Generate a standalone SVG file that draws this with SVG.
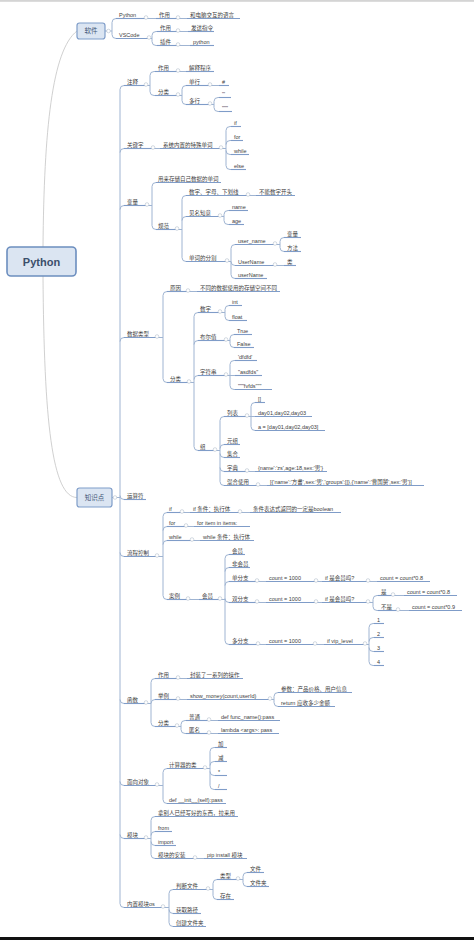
<svg xmlns="http://www.w3.org/2000/svg" width="474" height="940" viewBox="0 0 474 940">
<style>
.t{font-family:"Liberation Sans","Noto Sans CJK SC",sans-serif;font-size:5.5px;fill:#404040}
.u{fill:none;stroke:#7f9cc8;stroke-width:1.1}
.c{fill:none;stroke:#9fb4d2;stroke-width:1}
.k{fill:#fff;stroke:#b4bfcd;stroke-width:0.6}
.box{fill:#dbe5f2;stroke:#7f9dc9;stroke-width:1.2}
.bt{font-family:"Liberation Sans","Noto Sans CJK SC",sans-serif;font-size:6.5px;fill:#3d5475;text-anchor:middle}
.rc{fill:none;stroke:#c4c4c4;stroke-width:0.8}
</style>
<rect x="0" y="0" width="474" height="940" fill="#fff"/>
<rect x="0" y="0" width="474" height="1.8" fill="#d4d4d4"/>
<rect x="0" y="937" width="474" height="3" fill="#111"/>

<g id="connectors">
<path class="rc" d="M43,247C44,130 52,50 77,31"/>
<path class="rc" d="M43,276C44,420 52,497.5 77,497.5"/>
<path class="c" d="M105,31H112M112,22.5V34.5M112,22.5Q112,18.5 116,18.5M112,34.5Q112,38.5 116,38.5"/>
<path class="c" d="M146,18.5H156M178,18.5H187"/>
<path class="c" d="M149,38.5H152M152,35.5V41.5M152,35.5Q152,31.5 156,31.5H157M152,41.5Q152,45.5 156,45.5H157M178,31.5H188M178,45.5H190"/>
<path class="c" d="M112,497.5H120M120,89.5V903.5M120,89.5Q120,85.5 124,85.5M120,152.5Q120,148.5 124,148.5M120,209.5Q120,205.5 124,205.5M120,341.5Q120,337.5 124,337.5M120,495.5Q120,499.5 124,499.5M120,552.5Q120,556.5 124,556.5M120,699.5Q120,703.5 124,703.5M120,781.5Q120,785.5 124,785.5M120,834.5Q120,838.5 124,838.5M120,903.5Q120,907.5 124,907.5"/>
<path class="c" d="M146,85.5H150M150,75.5V91.5M150,75.5Q150,71.5 154,71.5H155M150,91.5Q150,95.5 154,95.5H155M178,71.5H186"/>
<path class="c" d="M178,95.5H182M182,89.5V100.5M182,89.5Q182,85.5 186,85.5M182,100.5Q182,104.5 186,104.5M210,85.5H219"/>
<path class="c" d="M210,104.5H214M214,101.5V107.5M214,101.5Q214,97.5 218,97.5H219M214,107.5Q214,111.5 218,111.5H219"/>
<path class="c" d="M153,148.5H160M221,148.5H226M226,130.5V165.5M226,130.5Q226,126.5 230,126.5H231M226,144.5Q226,140.5 230,140.5H231M226,150.5Q226,154.5 230,154.5H231M226,165.5Q226,169.5 230,169.5H231"/>
<path class="c" d="M147,205.5H152M152,186.5V225.5M152,186.5Q152,182.5 156,182.5M152,225.5Q152,229.5 156,229.5"/>
<path class="c" d="M177,229.5H182M182,199.5V257.5M182,199.5Q182,195.5 186,195.5M182,220.5Q182,216.5 186,216.5M182,257.5Q182,261.5 186,261.5M248,195.5H256"/>
<path class="c" d="M220,216.5H224M224,214.5V220.5M224,214.5Q224,210.5 228,210.5H229M224,220.5Q224,224.5 228,224.5H229"/>
<path class="c" d="M227,261.5H231M231,248.5V274.5M231,248.5Q231,244.5 235,244.5M231,261.5Q231,265.5 235,265.5M231,274.5Q231,278.5 235,278.5"/>
<path class="c" d="M275,244.5H280M280,241.5V247.5M280,241.5Q280,237.5 284,237.5M280,247.5Q280,251.5 284,251.5M275,265.5H284"/>
<path class="c" d="M157,337.5H163M163,295.5V378.5M163,295.5Q163,291.5 167,291.5M163,378.5Q163,382.5 167,382.5M188,291.5H197"/>
<path class="c" d="M189,382.5H194M194,316.5V446.5M194,316.5Q194,312.5 198,312.5M194,344.5Q194,340.5 198,340.5M194,379.5Q194,375.5 198,375.5M194,446.5Q194,450.5 198,450.5"/>
<path class="c" d="M220,312.5H225M225,309.5V316.5M225,309.5Q225,305.5 229,305.5M225,316.5Q225,320.5 229,320.5"/>
<path class="c" d="M226,340.5H230M230,338.5V343.5M230,338.5Q230,334.5 234,334.5M230,343.5Q230,347.5 234,347.5"/>
<path class="c" d="M226,375.5H235M230,364.5V385.5M230,364.5Q230,360.5 234,360.5H235M230,385.5Q230,389.5 234,389.5H235"/>
<path class="c" d="M215,450.5H220M220,420.5V481.5M220,420.5Q220,416.5 224,416.5M220,448.5Q220,444.5 224,444.5M220,453.5Q220,457.5 224,457.5M220,467.5Q220,471.5 224,471.5M220,481.5Q220,485.5 224,485.5"/>
<path class="c" d="M247,416.5H255M251,406.5V426.5M251,406.5Q251,402.5 255,402.5M251,426.5Q251,430.5 255,430.5M247,471.5H255M258,485.5H267"/>
<path class="c" d="M157,556.5H163M163,516.5V595.5M163,516.5Q163,512.5 167,512.5M163,530.5Q163,526.5 167,526.5M163,544.5Q163,540.5 167,540.5M163,595.5Q163,599.5 167,599.5"/>
<path class="c" d="M182,512.5H190M240,512.5H250M186,526.5H194M192,540.5H200M188,599.5H199"/>
<path class="c" d="M220,599.5H225M225,558.5V640.5M225,558.5Q225,554.5 229,554.5M225,571.5Q225,567.5 229,567.5M225,585.5Q225,581.5 229,581.5M225,598.5Q225,602.5 229,602.5M225,640.5Q225,644.5 229,644.5"/>
<path class="c" d="M257,581.5H266M316,581.5H322M368,581.5H377M257,602.5H266M316,602.5H322M258,644.5H266M315,644.5H324"/>
<path class="c" d="M368,602.5H373M373,599.5V606.5M373,599.5Q373,595.5 377,595.5H378M373,606.5Q373,610.5 377,610.5H378M393,595.5H404M398,610.5H409"/>
<path class="c" d="M365,644.5H369M369,627.5V661.5M369,627.5Q369,623.5 373,623.5H374M369,641.5Q369,637.5 373,637.5H374M369,647.5Q369,651.5 373,651.5H374M369,661.5Q369,665.5 373,665.5H374"/>
<path class="c" d="M146,703.5H151M151,682.5V722.5M151,682.5Q151,678.5 155,678.5M151,703.5Q151,699.5 155,699.5M151,722.5Q151,726.5 155,726.5M178,678.5H187M178,699.5H187"/>
<path class="c" d="M270,699.5H274M274,696.5V702.5M274,696.5Q274,692.5 278,692.5M274,702.5Q274,706.5 278,706.5"/>
<path class="c" d="M177,726.5H181M181,724.5V729.5M181,724.5Q181,720.5 185,720.5H186M181,729.5Q181,733.5 185,733.5H186M209,720.5H218M209,733.5H218"/>
<path class="c" d="M157,785.5H163M163,772.5V799.5M163,772.5Q163,768.5 167,768.5M163,799.5Q163,803.5 167,803.5"/>
<path class="c" d="M205,768.5H210M210,751.5V785.5M210,751.5Q210,747.5 214,747.5H215M210,765.5Q210,761.5 214,761.5H215M210,771.5Q210,775.5 214,775.5H215M210,785.5Q210,789.5 214,789.5H215"/>
<path class="c" d="M146,838.5H151M151,820.5V854.5M151,820.5Q151,816.5 155,816.5M151,835.5Q151,831.5 155,831.5M151,841.5Q151,845.5 155,845.5M151,854.5Q151,858.5 155,858.5M195,858.5H204"/>
<path class="c" d="M163,907.5H169M169,893.5V922.5M169,893.5Q169,889.5 173,889.5M169,909.5Q169,913.5 173,913.5M169,922.5Q169,926.5 173,926.5"/>
<path class="c" d="M208,889.5H213M213,883.5V895.5M213,883.5Q213,879.5 217,879.5M213,895.5Q213,899.5 217,899.5"/>
<path class="c" d="M238,879.5H243M243,876.5V882.5M243,876.5Q243,872.5 247,872.5M243,882.5Q243,886.5 247,886.5"/>
</g>

<g id="root"><rect x="7" y="247" width="69" height="29" rx="4" fill="#dbe5f2" stroke="#6c8ebf" stroke-width="1.6"/><text x="41.5" y="265.5" text-anchor="middle" font-family="Liberation Sans, sans-serif" font-size="11" font-weight="bold" fill="#3b4f6b">Python</text></g>

<g id="n-software"><rect class="box" x="77" y="23" width="28" height="16" rx="2.5"/><text class="bt" x="91" y="33.3">软件</text><circle class="k" cx="108.5" cy="31" r="1.8"/></g>
<g id="n-sw-python"><text class="t" x="119" y="17">Python</text><path class="u" d="M116,18.5H146"/><circle class="k" cx="146" cy="17.5" r="1.8"/></g>
<g id="n-sw-python-use"><text class="t" x="159" y="17">作用</text><path class="u" d="M156,18.5H178"/><circle class="k" cx="178" cy="17.5" r="1.8"/></g>
<g id="n-sw-python-use-v"><text class="t" x="190" y="17">和电脑交互的语言</text><path class="u" d="M187,18.5H240"/></g>
<g id="n-sw-vscode"><text class="t" x="119" y="37">VSCode</text><path class="u" d="M116,38.5H149"/><circle class="k" cx="149" cy="37.5" r="1.8"/></g>
<g id="n-sw-vs-use"><text class="t" x="160" y="30">作用</text><path class="u" d="M157,31.5H178"/><circle class="k" cx="178" cy="30.5" r="1.8"/></g>
<g id="n-sw-vs-use-v"><text class="t" x="191" y="30">发送指令</text><path class="u" d="M188,31.5H214"/></g>
<g id="n-sw-vs-plugin"><text class="t" x="160" y="44">插件</text><path class="u" d="M157,45.5H178"/><circle class="k" cx="178" cy="44.5" r="1.8"/></g>
<g id="n-sw-vs-plugin-v"><text class="t" x="193" y="44">python</text><path class="u" d="M190,45.5H214"/></g>

<g id="n-knowledge"><rect class="box" x="77" y="488" width="35" height="19" rx="2.5"/><text class="bt" x="94.5" y="499.8">知识点</text><circle class="k" cx="115" cy="497.5" r="1.8"/></g>

<g id="n-comment"><text class="t" x="127" y="84">注释</text><path class="u" d="M124,85.5H146"/><circle class="k" cx="146" cy="84.5" r="1.8"/></g>
<g id="n-comment-use"><text class="t" x="158" y="70">作用</text><path class="u" d="M155,71.5H178"/><circle class="k" cx="178" cy="70.5" r="1.8"/></g>
<g id="n-comment-use-v"><text class="t" x="189" y="70">解释程序</text><path class="u" d="M186,71.5H214"/></g>
<g id="n-comment-cls"><text class="t" x="158" y="94">分类</text><path class="u" d="M155,95.5H178"/><circle class="k" cx="178" cy="94.5" r="1.8"/></g>
<g id="n-comment-single"><text class="t" x="189" y="84">单行</text><path class="u" d="M186,85.5H210"/><circle class="k" cx="210" cy="84.5" r="1.8"/></g>
<g id="n-comment-hash"><text class="t" x="222" y="84">#</text><path class="u" d="M219,85.5H229"/></g>
<g id="n-comment-multi"><text class="t" x="189" y="103">多行</text><path class="u" d="M186,104.5H210"/><circle class="k" cx="210" cy="103.5" r="1.8"/></g>
<g id="n-comment-q1"><text class="t" x="222" y="96">'''</text><path class="u" d="M219,97.5H231"/></g>
<g id="n-comment-q2"><text class="t" x="222" y="110">"""</text><path class="u" d="M219,111.5H232"/></g>

<g id="n-keyword"><text class="t" x="127" y="147">关键字</text><path class="u" d="M124,148.5H153"/><circle class="k" cx="153" cy="147.5" r="1.8"/></g>
<g id="n-keyword-v"><text class="t" x="163" y="147">系统内置的特殊单词</text><path class="u" d="M160,148.5H221"/><circle class="k" cx="221" cy="147.5" r="1.8"/></g>
<g id="n-kw-if"><text class="t" x="234" y="125">if</text><path class="u" d="M231,126.5H241"/></g>
<g id="n-kw-for"><text class="t" x="234" y="139">for</text><path class="u" d="M231,140.5H243"/></g>
<g id="n-kw-while"><text class="t" x="234" y="153">while</text><path class="u" d="M231,154.5H249"/></g>
<g id="n-kw-else"><text class="t" x="234" y="168">else</text><path class="u" d="M231,169.5H246"/></g>

<g id="n-var"><text class="t" x="127" y="204">变量</text><path class="u" d="M124,205.5H147"/><circle class="k" cx="147" cy="204.5" r="1.8"/></g>
<g id="n-var-def"><text class="t" x="158" y="181">用来存储自己数据的单词</text><path class="u" d="M156,182.5H221"/></g>
<g id="n-var-rule"><text class="t" x="158" y="228">规范</text><path class="u" d="M156,229.5H177"/><circle class="k" cx="177" cy="228.5" r="1.8"/></g>
<g id="n-var-chars"><text class="t" x="189" y="194">数字、字母、下划线</text><path class="u" d="M186,195.5H248"/><circle class="k" cx="248" cy="194.5" r="1.8"/></g>
<g id="n-var-nodigit"><text class="t" x="259" y="194">不能数字开头</text><path class="u" d="M256,195.5H295"/></g>
<g id="n-var-meaning"><text class="t" x="189" y="215">见名知意</text><path class="u" d="M186,216.5H220"/><circle class="k" cx="220" cy="215.5" r="1.8"/></g>
<g id="n-var-name"><text class="t" x="232" y="209">name</text><path class="u" d="M229,210.5H248"/></g>
<g id="n-var-age"><text class="t" x="232" y="223">age</text><path class="u" d="M229,224.5H244"/></g>
<g id="n-var-split"><text class="t" x="189" y="260">单词的分割</text><path class="u" d="M186,261.5H227"/><circle class="k" cx="227" cy="260.5" r="1.8"/></g>
<g id="n-var-snake"><text class="t" x="238" y="243">user_name</text><path class="u" d="M235,244.5H275"/><circle class="k" cx="275" cy="243.5" r="1.8"/></g>
<g id="n-var-snake-var"><text class="t" x="287" y="236">变量</text><path class="u" d="M284,237.5H301"/></g>
<g id="n-var-snake-fn"><text class="t" x="287" y="250">方法</text><path class="u" d="M284,251.5H301"/></g>
<g id="n-var-pascal"><text class="t" x="238" y="264">UserName</text><path class="u" d="M235,265.5H275"/><circle class="k" cx="275" cy="264.5" r="1.8"/></g>
<g id="n-var-pascal-cls"><text class="t" x="287" y="264">类</text><path class="u" d="M284,265.5H296"/></g>
<g id="n-var-camel"><text class="t" x="238" y="277">userName</text><path class="u" d="M235,278.5H267"/></g>

<g id="n-dtype"><text class="t" x="127" y="336">数据类型</text><path class="u" d="M124,337.5H157"/><circle class="k" cx="157" cy="336.5" r="1.8"/></g>
<g id="n-dtype-why"><text class="t" x="170" y="290">原因</text><path class="u" d="M167,291.5H188"/><circle class="k" cx="188" cy="290.5" r="1.8"/></g>
<g id="n-dtype-why-v"><text class="t" x="200" y="290">不同的数据使用的存储空间不同</text><path class="u" d="M197,291.5H280"/></g>
<g id="n-dtype-cls"><text class="t" x="170" y="381">分类</text><path class="u" d="M167,382.5H189"/><circle class="k" cx="189" cy="381.5" r="1.8"/></g>
<g id="n-dt-num"><text class="t" x="200" y="311">数字</text><path class="u" d="M198,312.5H220"/><circle class="k" cx="220" cy="311.5" r="1.8"/></g>
<g id="n-dt-int"><text class="t" x="232" y="304">int</text><path class="u" d="M229,305.5H242"/></g>
<g id="n-dt-float"><text class="t" x="232" y="319">float</text><path class="u" d="M229,320.5H247"/></g>
<g id="n-dt-bool"><text class="t" x="200" y="339">布尔值</text><path class="u" d="M198,340.5H226"/><circle class="k" cx="226" cy="339.5" r="1.8"/></g>
<g id="n-dt-true"><text class="t" x="237" y="333">True</text><path class="u" d="M234,334.5H252"/></g>
<g id="n-dt-false"><text class="t" x="237" y="346">False</text><path class="u" d="M234,347.5H254"/></g>
<g id="n-dt-str"><text class="t" x="200" y="374">字符串</text><path class="u" d="M198,375.5H226"/><circle class="k" cx="226" cy="374.5" r="1.8"/></g>
<g id="n-dt-s1"><text class="t" x="238" y="359">'dfdfd'</text><path class="u" d="M235,360.5H257"/></g>
<g id="n-dt-s2"><text class="t" x="238" y="374">"asdfds"</text><path class="u" d="M235,375.5H262"/></g>
<g id="n-dt-s3"><text class="t" x="238" y="388">"""fvfds"""</text><path class="u" d="M235,389.5H272"/></g>
<g id="n-dt-group"><text class="t" x="200" y="449">组</text><path class="u" d="M198,450.5H215"/><circle class="k" cx="215" cy="449.5" r="1.8"/></g>
<g id="n-dt-list"><text class="t" x="227" y="415">列表</text><path class="u" d="M224,416.5H247"/><circle class="k" cx="247" cy="415.5" r="1.8"/></g>
<g id="n-dt-list1"><text class="t" x="258" y="401">[]</text><path class="u" d="M255,402.5H265"/></g>
<g id="n-dt-list2"><text class="t" x="258" y="415">day01,day02,day03</text><path class="u" d="M255,416.5H312"/></g>
<g id="n-dt-list3"><text class="t" x="258" y="429">a = [day01,day02,day03]</text><path class="u" d="M255,430.5H325"/></g>
<g id="n-dt-tuple"><text class="t" x="227" y="443">元组</text><path class="u" d="M224,444.5H240"/></g>
<g id="n-dt-set"><text class="t" x="227" y="456">集合</text><path class="u" d="M224,457.5H240"/></g>
<g id="n-dt-dict"><text class="t" x="227" y="470">字典</text><path class="u" d="M224,471.5H247"/><circle class="k" cx="247" cy="470.5" r="1.8"/></g>
<g id="n-dt-dict-v"><text class="t" x="258" y="470">{name':'zs',age:18,sex:'男'}</text><path class="u" d="M255,471.5H327"/></g>
<g id="n-dt-mix"><text class="t" x="227" y="484">混合使用</text><path class="u" d="M224,485.5H258"/><circle class="k" cx="258" cy="484.5" r="1.8"/></g>
<g id="n-dt-mix-v"><text class="t" x="270" y="484">[{'name':'方書',sex:'男','groups':[]},{'name':'曹国舅',sex:'男'}]</text><path class="u" d="M267,485.5H424"/></g>

<g id="n-operator"><text class="t" x="127" y="498">运算符</text><path class="u" d="M124,499.5H146"/></g>

<g id="n-flow"><text class="t" x="127" y="555">流程控制</text><path class="u" d="M124,556.5H157"/><circle class="k" cx="157" cy="555.5" r="1.8"/></g>
<g id="n-flow-if"><text class="t" x="169" y="511">if</text><path class="u" d="M167,512.5H182"/><circle class="k" cx="182" cy="511.5" r="1.8"/></g>
<g id="n-flow-if-v"><text class="t" x="193" y="511">if 条件：执行体</text><path class="u" d="M190,512.5H240"/><circle class="k" cx="240" cy="511.5" r="1.8"/></g>
<g id="n-flow-if-note"><text class="t" x="253" y="511">条件表达式返回的一定是boolean</text><path class="u" d="M250,512.5H341"/></g>
<g id="n-flow-for"><text class="t" x="169" y="525">for</text><path class="u" d="M167,526.5H186"/><circle class="k" cx="186" cy="525.5" r="1.8"/></g>
<g id="n-flow-for-v"><text class="t" x="197" y="525">for  item in items:</text><path class="u" d="M194,526.5H250"/></g>
<g id="n-flow-while"><text class="t" x="169" y="539">while</text><path class="u" d="M167,540.5H192"/><circle class="k" cx="192" cy="539.5" r="1.8"/></g>
<g id="n-flow-while-v"><text class="t" x="203" y="539">while 条件：执行体</text><path class="u" d="M200,540.5H254"/></g>
<g id="n-flow-case"><text class="t" x="169" y="598">案例</text><path class="u" d="M167,599.5H188"/><circle class="k" cx="188" cy="598.5" r="1.8"/></g>
<g id="n-flow-member"><text class="t" x="202" y="598">会员</text><path class="u" d="M199,599.5H220"/><circle class="k" cx="220" cy="598.5" r="1.8"/></g>
<g id="n-fm-member"><text class="t" x="232" y="553">会员</text><path class="u" d="M229,554.5H245"/></g>
<g id="n-fm-nonmember"><text class="t" x="232" y="566">非会员</text><path class="u" d="M229,567.5H250"/></g>
<g id="n-fm-single"><text class="t" x="232" y="580">单分支</text><path class="u" d="M229,581.5H257"/><circle class="k" cx="257" cy="580.5" r="1.8"/></g>
<g id="n-fm-single-c"><text class="t" x="269" y="580">count = 1000</text><path class="u" d="M266,581.5H316"/><circle class="k" cx="316" cy="580.5" r="1.8"/></g>
<g id="n-fm-single-if"><text class="t" x="325" y="580">if 是会员吗?</text><path class="u" d="M322,581.5H368"/><circle class="k" cx="368" cy="580.5" r="1.8"/></g>
<g id="n-fm-single-r"><text class="t" x="380" y="580">count = count*0.8</text><path class="u" d="M377,581.5H430"/></g>
<g id="n-fm-double"><text class="t" x="232" y="601">双分支</text><path class="u" d="M229,602.5H257"/><circle class="k" cx="257" cy="601.5" r="1.8"/></g>
<g id="n-fm-double-c"><text class="t" x="269" y="601">count = 1000</text><path class="u" d="M266,602.5H316"/><circle class="k" cx="316" cy="601.5" r="1.8"/></g>
<g id="n-fm-double-if"><text class="t" x="325" y="601">if 是会员吗?</text><path class="u" d="M322,602.5H368"/><circle class="k" cx="368" cy="601.5" r="1.8"/></g>
<g id="n-fm-yes"><text class="t" x="381" y="594">是</text><path class="u" d="M378,595.5H393"/><circle class="k" cx="393" cy="594.5" r="1.8"/></g>
<g id="n-fm-yes-v"><text class="t" x="407" y="594">count = count*0.8</text><path class="u" d="M404,595.5H457"/></g>
<g id="n-fm-no"><text class="t" x="381" y="609">不是</text><path class="u" d="M378,610.5H398"/><circle class="k" cx="398" cy="609.5" r="1.8"/></g>
<g id="n-fm-no-v"><text class="t" x="412" y="609">count = count*0.9</text><path class="u" d="M409,610.5H462"/></g>
<g id="n-fm-multi"><text class="t" x="232" y="643">多分支</text><path class="u" d="M229,644.5H258"/><circle class="k" cx="258" cy="643.5" r="1.8"/></g>
<g id="n-fm-multi-c"><text class="t" x="269" y="643">count = 1000</text><path class="u" d="M266,644.5H315"/><circle class="k" cx="315" cy="643.5" r="1.8"/></g>
<g id="n-fm-multi-if"><text class="t" x="327" y="643">if vip_level</text><path class="u" d="M324,644.5H365"/><circle class="k" cx="365" cy="643.5" r="1.8"/></g>
<g id="n-fm-l1"><text class="t" x="377" y="622">1</text><path class="u" d="M374,623.5H384"/></g>
<g id="n-fm-l2"><text class="t" x="377" y="636">2</text><path class="u" d="M374,637.5H384"/></g>
<g id="n-fm-l3"><text class="t" x="377" y="650">3</text><path class="u" d="M374,651.5H384"/></g>
<g id="n-fm-l4"><text class="t" x="377" y="664">4</text><path class="u" d="M374,665.5H384"/></g>

<g id="n-func"><text class="t" x="127" y="702">函数</text><path class="u" d="M124,703.5H146"/><circle class="k" cx="146" cy="702.5" r="1.8"/></g>
<g id="n-func-use"><text class="t" x="158" y="677">作用</text><path class="u" d="M155,678.5H178"/><circle class="k" cx="178" cy="677.5" r="1.8"/></g>
<g id="n-func-use-v"><text class="t" x="190" y="677">封装了一系列的操作</text><path class="u" d="M187,678.5H243"/></g>
<g id="n-func-eg"><text class="t" x="158" y="698">举例</text><path class="u" d="M155,699.5H178"/><circle class="k" cx="178" cy="698.5" r="1.8"/></g>
<g id="n-func-eg-v"><text class="t" x="190" y="698">show_money(count,userId)</text><path class="u" d="M187,699.5H270"/><circle class="k" cx="270" cy="698.5" r="1.8"/></g>
<g id="n-func-param"><text class="t" x="281" y="691">参数：产品价格、用户信息</text><path class="u" d="M278,692.5H352"/></g>
<g id="n-func-ret"><text class="t" x="281" y="705">return 应收多少金额</text><path class="u" d="M278,706.5H335"/></g>
<g id="n-func-cls"><text class="t" x="158" y="725">分类</text><path class="u" d="M155,726.5H177"/><circle class="k" cx="177" cy="725.5" r="1.8"/></g>
<g id="n-func-normal"><text class="t" x="189" y="719">普通</text><path class="u" d="M186,720.5H209"/><circle class="k" cx="209" cy="719.5" r="1.8"/></g>
<g id="n-func-normal-v"><text class="t" x="221" y="719">def  func_name():pass</text><path class="u" d="M218,720.5H280"/></g>
<g id="n-func-anon"><text class="t" x="189" y="732">匿名</text><path class="u" d="M186,733.5H209"/><circle class="k" cx="209" cy="732.5" r="1.8"/></g>
<g id="n-func-anon-v"><text class="t" x="221" y="732">lambda &lt;args&gt;: pass</text><path class="u" d="M218,733.5H279"/></g>

<g id="n-oop"><text class="t" x="127" y="784">面向对象</text><path class="u" d="M124,785.5H157"/><circle class="k" cx="157" cy="784.5" r="1.8"/></g>
<g id="n-oop-calc"><text class="t" x="169" y="767">计算器的类</text><path class="u" d="M167,768.5H205"/><circle class="k" cx="205" cy="767.5" r="1.8"/></g>
<g id="n-oop-add"><text class="t" x="218" y="746">加</text><path class="u" d="M215,747.5H227"/></g>
<g id="n-oop-sub"><text class="t" x="218" y="760">减</text><path class="u" d="M215,761.5H227"/></g>
<g id="n-oop-mul"><text class="t" x="218" y="774">*</text><path class="u" d="M215,775.5H227"/></g>
<g id="n-oop-div"><text class="t" x="218" y="788">/</text><path class="u" d="M215,789.5H227"/></g>
<g id="n-oop-init"><text class="t" x="169" y="802">def __init__(self):pass</text><path class="u" d="M167,803.5H226"/></g>

<g id="n-module"><text class="t" x="127" y="837">模块</text><path class="u" d="M124,838.5H146"/><circle class="k" cx="146" cy="837.5" r="1.8"/></g>
<g id="n-module-def"><text class="t" x="158" y="815">拿别人已经写好的东西，拉来用</text><path class="u" d="M155,816.5H238"/></g>
<g id="n-module-from"><text class="t" x="158" y="830">from</text><path class="u" d="M155,831.5H172"/></g>
<g id="n-module-import"><text class="t" x="158" y="844">import</text><path class="u" d="M155,845.5H176"/></g>
<g id="n-module-install"><text class="t" x="158" y="857">模块的安装</text><path class="u" d="M155,858.5H195"/><circle class="k" cx="195" cy="857.5" r="1.8"/></g>
<g id="n-module-pip"><text class="t" x="207" y="857">pip install 模块</text><path class="u" d="M204,858.5H247"/></g>

<g id="n-os"><text class="t" x="127" y="906">内置模块os</text><path class="u" d="M124,907.5H163"/><circle class="k" cx="163" cy="906.5" r="1.8"/></g>
<g id="n-os-judge"><text class="t" x="176" y="888">判断文件</text><path class="u" d="M173,889.5H208"/><circle class="k" cx="208" cy="888.5" r="1.8"/></g>
<g id="n-os-type"><text class="t" x="220" y="878">类型</text><path class="u" d="M217,879.5H238"/><circle class="k" cx="238" cy="878.5" r="1.8"/></g>
<g id="n-os-file"><text class="t" x="250" y="871">文件</text><path class="u" d="M247,872.5H264"/></g>
<g id="n-os-dir"><text class="t" x="250" y="885">文件夹</text><path class="u" d="M247,886.5H269"/></g>
<g id="n-os-exists"><text class="t" x="220" y="898">存在</text><path class="u" d="M217,899.5H234"/></g>
<g id="n-os-path"><text class="t" x="176" y="912">获取路径</text><path class="u" d="M173,913.5H201"/></g>
<g id="n-os-mkdir"><text class="t" x="176" y="925">创建文件夹</text><path class="u" d="M173,926.5H206"/></g>
</svg>
